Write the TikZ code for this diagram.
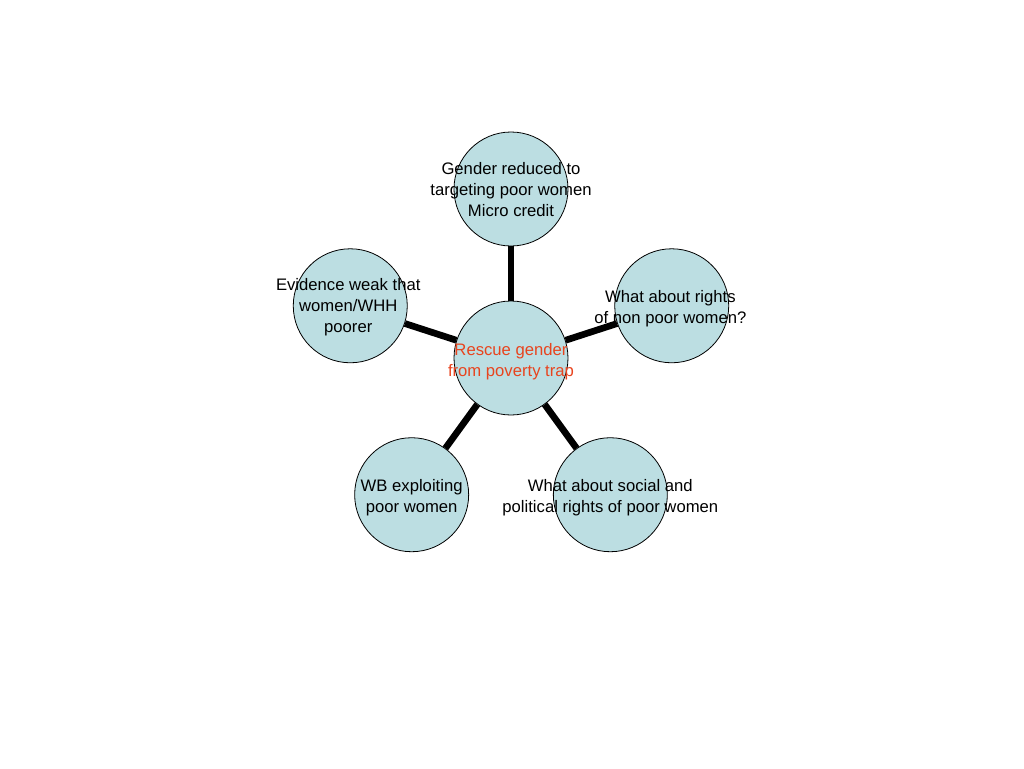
\documentclass[tikz,border=0pt]{standalone}
\usepackage{fontspec}
\setmainfont{Liberation Sans}
\usepackage{tikz}
\usetikzlibrary{calc}
\definecolor{bubblefill}{RGB}{188,222,226}
\definecolor{hubred}{RGB}{232,68,30}
\tikzstyle{bubble} = [draw, fill=bubblefill, circle, line width=0.6pt,
    minimum size=85.5pt, inner sep=0pt]
\tikzstyle{caption} = [align=center, inner sep=0pt,
    font=\fontsize{12.5}{15.8}\selectfont]
\tikzstyle{spoke} = [draw, line width=5pt]
\begin{document}
\begin{tikzpicture}
    \useasboundingbox (-383.25pt,-307.5pt) rectangle (384.75pt,268.5pt);
    % We start by placing the circles round the hub
    \node [bubble] (hub) at (0,0) {};
    \node [bubble] (top) at (90:126.75pt) {};
    \node [bubble] (right) at (18:126.75pt) {};
    \node [bubble] (lowright) at (-54:126.75pt) {};
    \node [bubble] (lowleft) at (-126:126.75pt) {};
    \node [bubble] (left) at (162:126.75pt) {};

    % The spokes join the hub to each outer circle
    \draw [spoke] (hub) -- (top);
    \draw [spoke] (hub) -- (right);
    \draw [spoke] (hub) -- (lowright);
    \draw [spoke] (hub) -- (lowleft);
    \draw [spoke] (hub) -- (left);

    % Texts go last, they may run over the circle edges
    \node [caption, text=hubred] (hubtext) at ($(hub.center)+(0,-2.6pt)$)
        {Rescue gender\\from poverty trap};
    \node [caption] (toptext) at ($(top.center)+(0,-0.3pt)$)
        {Gender reduced to\\targeting poor women\\Micro credit};
    \node [caption] (righttext) at ($(right.center)+(-1pt,-2.2pt)$)
        {What about rights\\of non poor women?};
    \node [caption] (lowrighttext) at ($(lowright.center)+(0,-2pt)$)
        {What about social and\\political rights of poor women};
    \node [caption] (lowlefttext) at ($(lowleft.center)+(0,-2.3pt)$)
        {WB exploiting\\poor women};
    \node [caption] (lefttext) at ($(left.center)+(-1.5pt,-1.3pt)$)
        {Evidence weak that\\women/WHH\\poorer};
\end{tikzpicture}
\end{document}
